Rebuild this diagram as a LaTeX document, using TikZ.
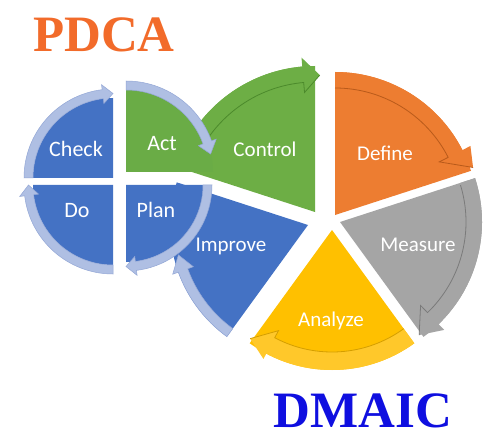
\documentclass[tikz,border=0pt]{standalone}
\usepackage{fontspec}
\setmainfont{Liberation Serif}
\newfontfamily\labfont{Carlito}
\definecolor{qblue}{HTML}{4472C4}
\definecolor{qgreen}{HTML}{6AAC46}
\definecolor{ringc}{HTML}{AFBFE3}
\definecolor{ringedge}{HTML}{93A7D6}
\definecolor{cgreen}{HTML}{6DAE45}
\definecolor{cgreenline}{HTML}{4C8A2C}
\definecolor{dorange}{HTML}{ED7D31}
\definecolor{dorangeline}{HTML}{B95A1A}
\definecolor{mgray}{HTML}{A5A5A5}
\definecolor{mgrayline}{HTML}{7A7A7A}
\definecolor{ayellow}{HTML}{FFC000}
\definecolor{ayellowband}{HTML}{FFC82A}
\definecolor{ayellowline}{HTML}{D49E00}
\definecolor{pdcaorange}{HTML}{F26B2A}
\definecolor{dmaicblue}{HTML}{0F0FE0}
% #1 style, #2 start angle, #3 head base angle, #4 tip angle,
% #5 inner r, #6 outer r, #7 head inner r, #8 head outer r, #9 tip r
\newcommand\arcarrow[9]{%
  \path[#1] (#2:#6pt) arc[start angle=#2, end angle=#3, radius=#6pt]
    -- (#3:#8pt) -- (#4:#9pt) -- (#3:#7pt) -- (#3:#5pt)
    arc[start angle=#3, end angle=#2, radius=#5pt] -- cycle;}
\newcommand\innerline[6]{%
  \draw[#1] (#2:#4pt) arc[start angle=#2, end angle=#3, radius=#4pt]
    -- (#3:#5pt) -- (#6);}
\tikzset{
  lab/.style={text=white, font=\labfont\fontsize{21}{21}\selectfont, anchor=base, inner sep=0pt},
  plab/.style={lab, font=\labfont\fontsize{22}{22}\selectfont},
  title/.style={font=\bfseries\fontsize{51}{51}\selectfont, anchor=base, inner sep=0pt},
  ringarrow/.style={fill=ringc, draw=ringedge, line width=0.5pt},
}
\begin{document}
\begin{tikzpicture}[x=1pt,y=1pt]
\useasboundingbox (0,0) rectangle (500,445);
\fill[white] (0,0) rectangle (500,445);

% ---------------- DMAIC ----------------
% Control
\begin{scope}[shift={(315,233)}]
  \fill[cgreen] (0,0) -- (162:146pt) arc[start angle=162, end angle=90, radius=146pt] -- cycle;
  \arcarrow{fill=cgreen}{162}{95}{88}{130}{146}{120}{155}{137}
  \coordinate (ctip) at (88:137pt);
  \innerline{cgreenline, line width=0.8pt}{150}{95}{130}{120}{ctip}
\end{scope}
% Define
\begin{scope}[shift={(335,230)}]
  \fill[dorange] (0,0) -- (90:143pt) arc[start angle=90, end angle=18, radius=143pt] -- cycle;
  \arcarrow{fill=dorange}{90}{27}{19}{127}{143}{117}{152}{146}
  \coordinate (dtip) at (19:146pt);
  \innerline{dorangeline, line width=0.8pt}{90}{27}{127}{117}{dtip}
\end{scope}
% Measure
\begin{scope}[shift={(340,223)}]
  \fill[mgray] (0,0) -- (18:142pt) arc[start angle=18, end angle=-54, radius=142pt] -- cycle;
  \arcarrow{fill=mgray}{18}{-46}{-55}{126}{142}{116}{150}{138}
  \coordinate (mtip) at (-55:138pt);
  \innerline{mgrayline, line width=0.8pt}{17}{-46}{126}{116}{mtip}
\end{scope}
% Analyze
\begin{scope}[shift={(332,215)}]
  \fill[ayellow] (0,0) -- (-54:140pt) arc[start angle=-54, end angle=-126, radius=140pt] -- cycle;
  \arcarrow{fill=ayellowband}{-54}{-118}{-127}{122}{140}{114}{146}{136}
  \coordinate (atip) at (-127:136pt);
  \innerline{ayellowline, line width=0.8pt}{-54}{-118}{122}{114}{atip}
\end{scope}
% Improve
\begin{scope}[shift={(308,220)}]
  \fill[qblue] (0,0) -- (234:138pt) arc[start angle=234, end angle=162, radius=138pt] -- cycle;
  \arcarrow{ringarrow}{234}{200}{193}{128}{138}{122}{144}{133}
\end{scope}

% ---------------- PDCA ----------------
% Check
\begin{scope}[shift={(113,267)}]
  \fill[qblue] (0,0) -- (180:80pt) arc[start angle=180, end angle=90, radius=80pt] -- cycle;
\end{scope}
% Act
\begin{scope}[shift={(126,273)}]
  \fill[qgreen] (0,0) -- (90:87pt) arc[start angle=90, end angle=0, radius=87pt] -- cycle;
\end{scope}
% Plan
\begin{scope}[shift={(126,260)}]
  \fill[qblue] (0,0) -- (0:77pt) arc[start angle=0, end angle=-90, radius=77pt] -- cycle;
\end{scope}
% Do
\begin{scope}[shift={(113,260)}]
  \fill[qblue] (0,0) -- (270:80pt) arc[start angle=270, end angle=180, radius=80pt] -- cycle;
\end{scope}
% PDCA ring arrows
\begin{scope}[shift={(113,267)}]
  \arcarrow{ringarrow}{180}{97}{90}{80}{89}{75}{94}{84.5}
\end{scope}
\begin{scope}[shift={(126,273)}]
  \arcarrow{ringarrow}{90}{20}{12}{82}{91}{77}{96}{86.5}
\end{scope}
\begin{scope}[shift={(126,260)}]
  \arcarrow{ringarrow}{0}{-83}{-90}{77}{86}{72}{91}{81.5}
\end{scope}
\begin{scope}[shift={(113,260)}]
  \arcarrow{ringarrow}{270}{187}{180}{80}{89}{75}{94}{84.5}
\end{scope}

% ---------------- labels ----------------
\node[plab] (check) at (76,288) {Check};
\node[plab] (act) at (162,294) {Act};
\node[plab] (do) at (77,228) {Do};
\node[plab] (plan) at (156,228) {Plan};
\node[lab] (control) at (265,288) {Control};
\node[lab] (define) at (385,284) {Define};
\node[lab] (measure) at (418,194) {Measure};
\node[lab] (improve) at (231,194) {Improve};
\node[lab] (analyze) at (331,119) {Analyze};

\node[title, text=pdcaorange] (pdca) at (104,393) {PDCA};
\node[title, text=dmaicblue] (dmaic) at (363,18) {DMAIC};
\end{tikzpicture}
\end{document}
